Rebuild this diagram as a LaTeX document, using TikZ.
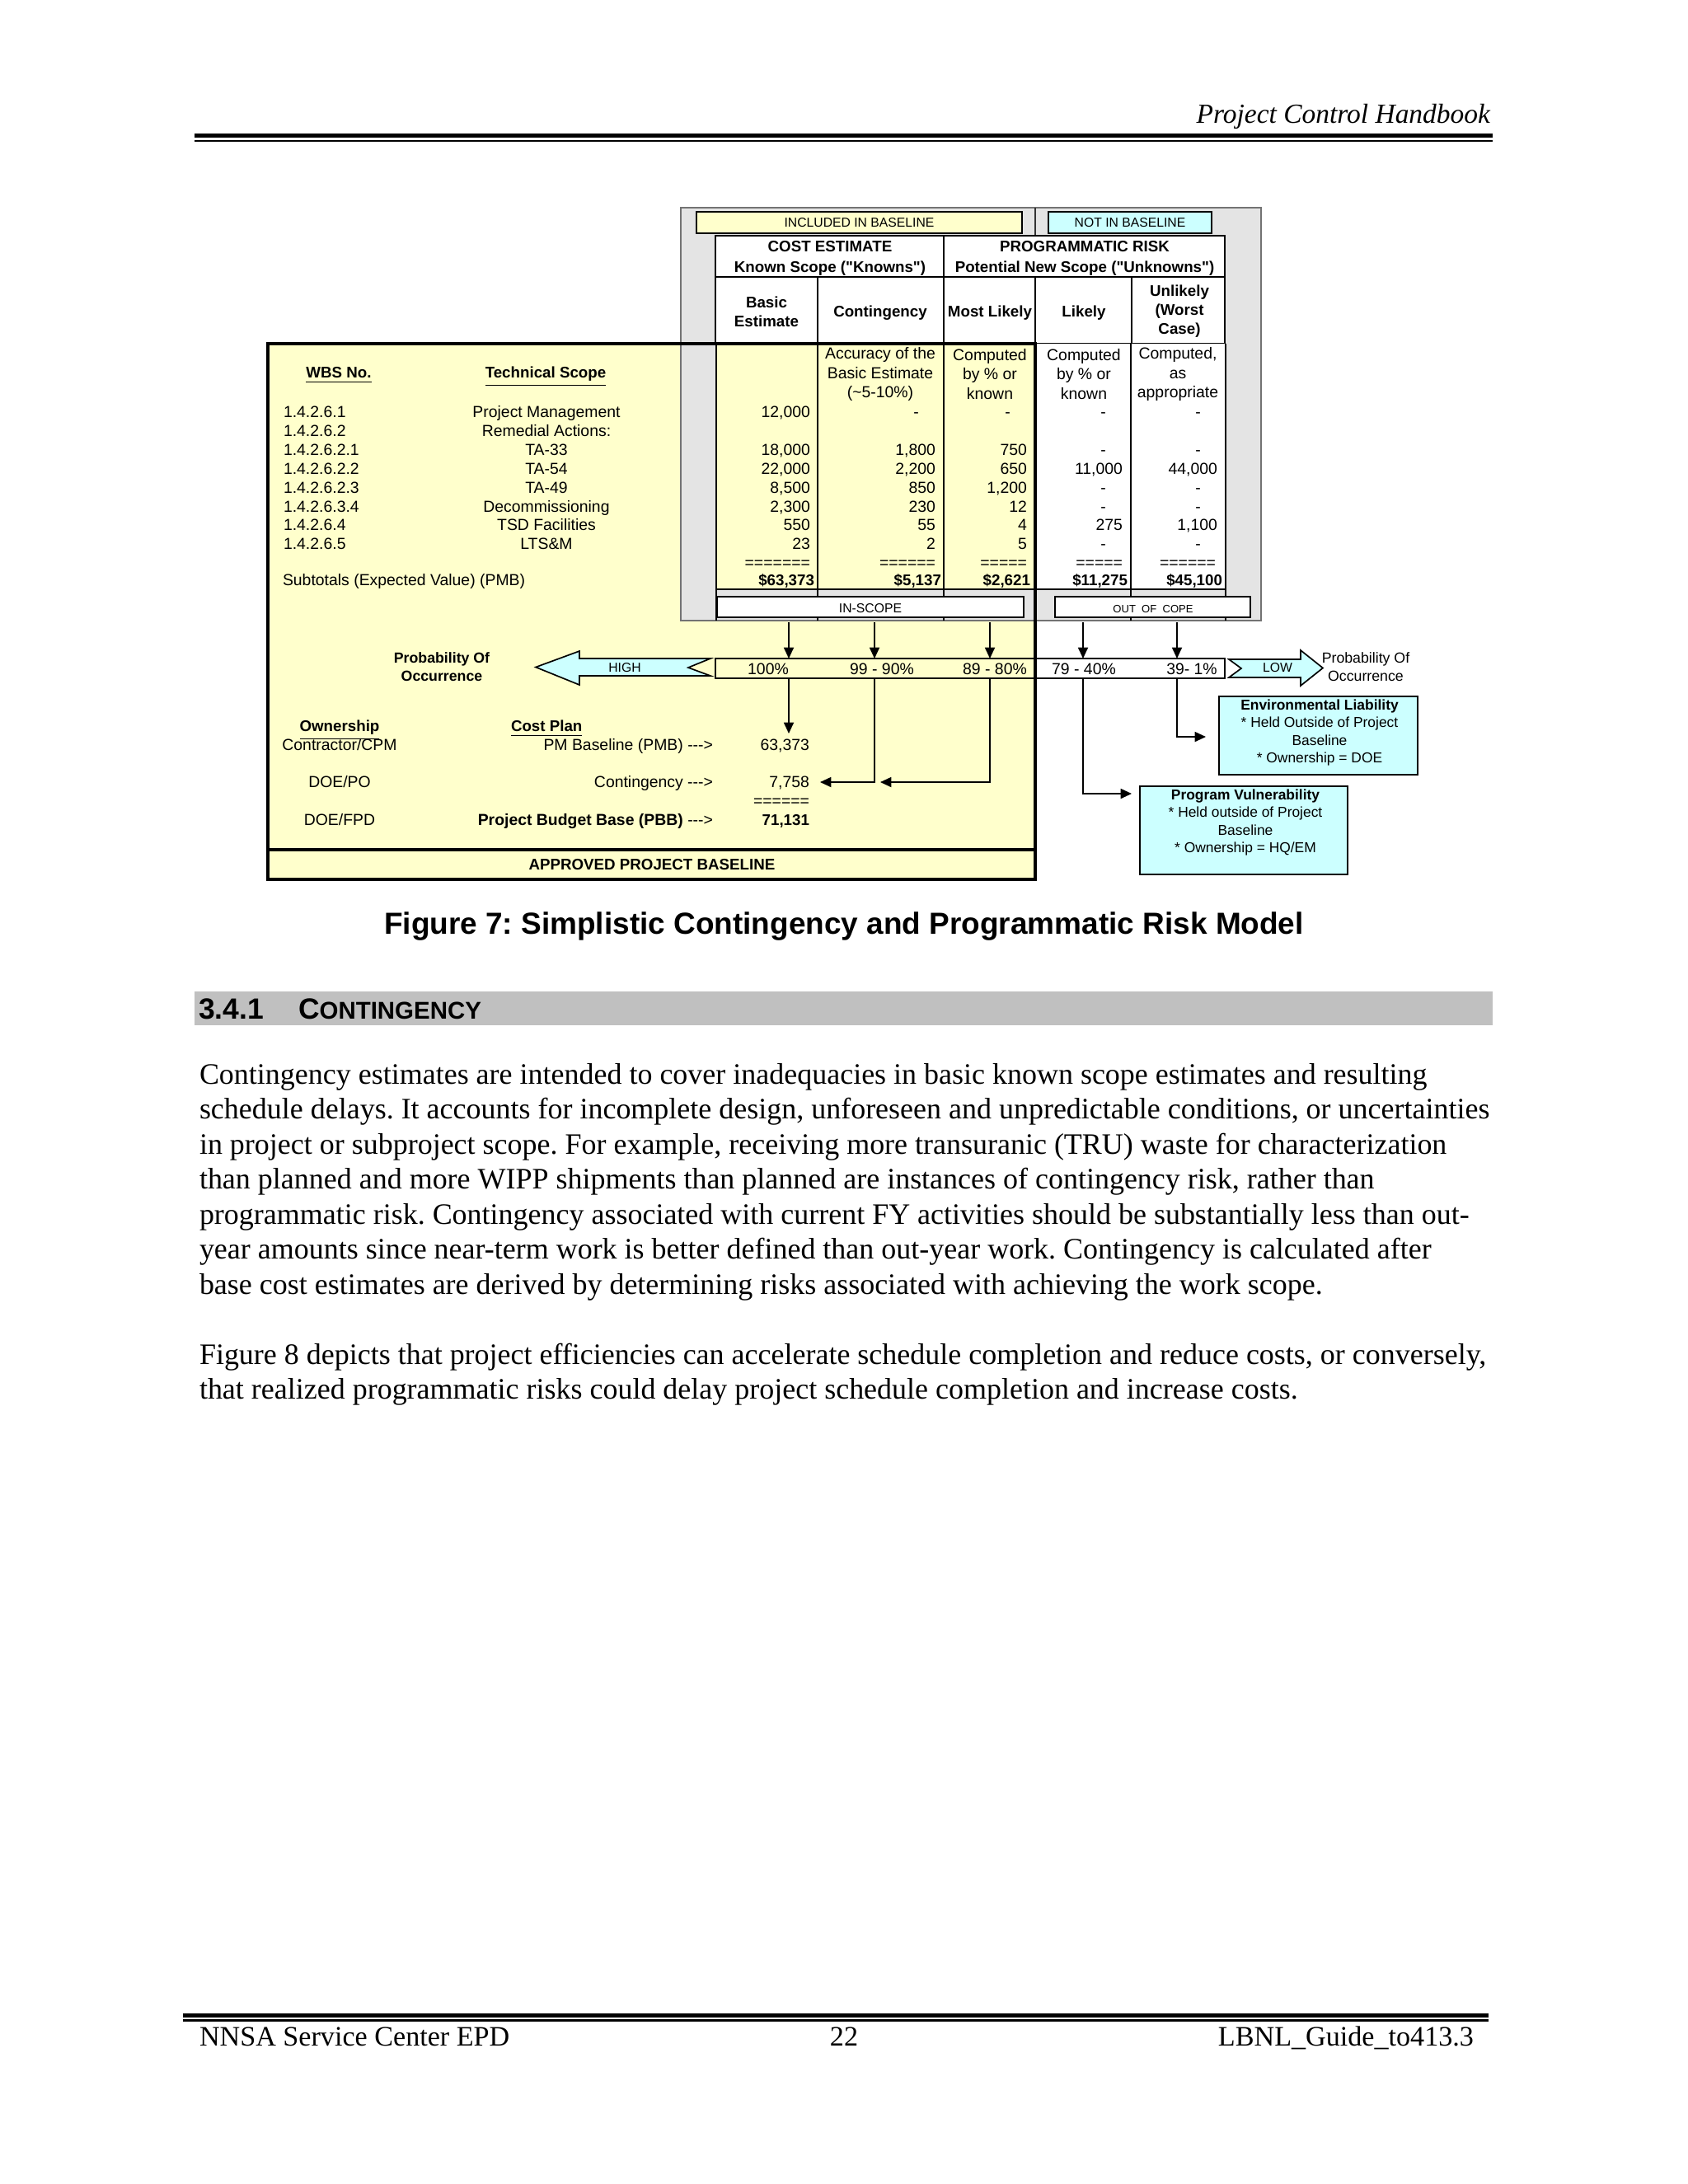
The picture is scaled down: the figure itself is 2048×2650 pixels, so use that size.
\documentclass[tikz,border=0pt]{standalone}
\usepackage{fontspec}
\setmainfont{Liberation Serif}
\newfontfamily\arialf{Liberation Sans}
\usetikzlibrary{arrows.meta}
\frenchspacing
\definecolor{cyel}{HTML}{FFFFCC}
\definecolor{ccyan}{HTML}{CCFFFF}
\definecolor{cgray}{HTML}{E4E4E4}
\definecolor{hbar}{HTML}{C0C0C0}
\newcommand\dashcell{-\kern6pt}
\newcommand\vcell[4]{\node[ftx, anchor=mid east] (#1) at (#2,#3) {#4};}
\newcommand\vbold[4]{\node[fbx, anchor=mid east] (#1) at (#2,#3) {#4};}
\begin{document}
\begin{tikzpicture}[x=0.298828pt,y=-0.298828pt,
  every node/.style={inner sep=0pt,outer sep=0pt},
  ftx/.style={font=\arialf\fontsize{5.8}{6.9}\selectfont},
  fbx/.style={font=\arialf\bfseries\fontsize{5.6}{6.9}\selectfont},
  fhd/.style={font=\arialf\bfseries\fontsize{5.6}{7.5}\selectfont},
  fsm/.style={font=\arialf\fontsize{4.7}{5.6}\selectfont},
  fcyan/.style={font=\arialf\fontsize{5.2}{6.4}\selectfont},
  bodyl/.style={font=\fontsize{10.75}{12.7}\selectfont, anchor=base west},
  footl/.style={font=\fontsize{10.2}{12}\selectfont},
  arr/.style={line width=0.5pt, -{Triangle[length=4pt,width=3.6pt]}},
  lwa/.style={line width=0.45pt},
  lwb/.style={line width=0.8pt},
  lwc/.style={line width=1.1pt}
]
\fill[white] (0,0) rectangle (2048,2650);
\useasboundingbox (0,0) rectangle (2048,2650);

% ---------- page header ----------
\node[font=\fontsize{10}{12}\selectfont\itshape, anchor=base east] (hdr) at (1808,149) {Project Control Handbook};
\fill (236,162) rectangle (1811,167);
\fill (236,169.5) rectangle (1811,172);

% ---------- figure ----------
\fill[cyel] (325,417) rectangle (1256,1067);
\filldraw[fill=cgray, draw=black!55, line width=0.4pt] (826,252) rectangle (1530,753);

\filldraw[fill=cyel, lwa] (845,257) rectangle (1240,283);
\node[fsm] (incl) at (1042.5,270) {INCLUDED IN BASELINE};
\filldraw[fill=ccyan, lwa] (1272,257) rectangle (1470,283);
\node[fsm] (notin) at (1371,270) {NOT IN BASELINE};
\draw[lwb, black!80] (1256,252) -- (1256,286);

% table title row
\filldraw[fill=white, lwa] (868,286) rectangle (1486,336);
\draw[lwa] (1145,286) -- (1145,336);
\node[fhd, align=center] (ce) at (1007,313) {COST ESTIMATE\\Known Scope ("Knowns")};
\node[fhd, align=center] (pr) at (1316,313) {PROGRAMMATIC RISK\\Potential New Scope ("Unknowns")};

% column header row
\fill[white] (868,336) rectangle (1486,417);
\draw[lwa] (992,336) -- (992,417) (1145,336) -- (1145,417);
\draw[lwb] (1256,336) -- (1256,417) (1373,336) -- (1373,417);
\draw[lwb] (868,336) rectangle (1486,417);
\node[fbx, align=center] (hb) at (930,378) {Basic\\Estimate};
\node[fbx, anchor=mid] (hc) at (1068,377) {Contingency};
\node[fbx, anchor=mid] (hm) at (1201,377) {Most Likely};
\node[fbx, anchor=mid] (hl) at (1315,377) {Likely};
\node[fbx, align=center] (hu) at (1431,378) {Unlikely\\(Worst\\Case)};

% data area
\fill[cyel] (869,417) rectangle (1256,715);
\fill[white] (1256,417) rectangle (1487,715);
\draw[lwa] (869,417) -- (869,753) (992,417) -- (992,753) (1145,417) -- (1145,753) (1372,417) -- (1372,753);
\draw[lwb] (1487,417) -- (1487,715);
\draw[lwa] (1487,715) -- (1487,753);
\draw[lwb] (869,715) -- (1487,715);

\node[ftx, align=center] (sc) at (1068,454) {Accuracy of the\\Basic Estimate\\(\textasciitilde5-10\%)};
\node[ftx, align=center] (sm) at (1201,454) {Computed\\by \% or\\known};
\node[ftx, align=center] (sl) at (1315,454) {Computed\\by \% or\\known};
\node[ftx, align=center] (su) at (1429,454) {Computed,\\as\\appropriate};

\node[fbx, anchor=mid] (wbsh) at (411,451) {\underline{WBS No.}};
\node[fbx, anchor=mid] (tsh) at (662,451) {\underline{Technical Scope}};

\node[ftx, anchor=mid west] (w1) at (344,499) {1.4.2.6.1};
\node[ftx, anchor=mid west] (w2) at (344,522) {1.4.2.6.2};
\node[ftx, anchor=mid west] (w3) at (344,545) {1.4.2.6.2.1};
\node[ftx, anchor=mid west] (w4) at (344,568) {1.4.2.6.2.2};
\node[ftx, anchor=mid west] (w5) at (344,591) {1.4.2.6.2.3};
\node[ftx, anchor=mid west] (w6) at (344,613.5) {1.4.2.6.3.4};
\node[ftx, anchor=mid west] (w7) at (344,636) {1.4.2.6.4};
\node[ftx, anchor=mid west] (w8) at (344,659) {1.4.2.6.5};
\node[ftx, anchor=mid west] (subt) at (343,703) {Subtotals (Expected Value) (PMB)};

\node[ftx, anchor=mid] (t1) at (663,499) {Project Management};
\node[ftx, anchor=mid] (t2) at (663,522) {Remedial Actions:};
\node[ftx, anchor=mid] (t3) at (663,545) {TA-33};
\node[ftx, anchor=mid] (t4) at (663,568) {TA-54};
\node[ftx, anchor=mid] (t5) at (663,591) {TA-49};
\node[ftx, anchor=mid] (t6) at (663,613.5) {Decommissioning};
\node[ftx, anchor=mid] (t7) at (663,636) {TSD Facilities};
\node[ftx, anchor=mid] (t8) at (663,659) {LTS\&M};

\vcell{r1a}{983}{499}{12,000}\vcell{r1b}{1135}{499}{\dashcell}\vcell{r1c}{1246}{499}{\dashcell}\vcell{r1d}{1362}{499}{\dashcell}\vcell{r1e}{1477}{499}{\dashcell}
\vcell{r3a}{983}{545}{18,000}\vcell{r3b}{1135}{545}{1,800}\vcell{r3c}{1246}{545}{750}\vcell{r3d}{1362}{545}{\dashcell}\vcell{r3e}{1477}{545}{\dashcell}
\vcell{r4a}{983}{568}{22,000}\vcell{r4b}{1135}{568}{2,200}\vcell{r4c}{1246}{568}{650}\vcell{r4d}{1362}{568}{11,000}\vcell{r4e}{1477}{568}{44,000}
\vcell{r5a}{983}{591}{8,500}\vcell{r5b}{1135}{591}{850}\vcell{r5c}{1246}{591}{1,200}\vcell{r5d}{1362}{591}{\dashcell}\vcell{r5e}{1477}{591}{\dashcell}
\vcell{r6a}{983}{613.5}{2,300}\vcell{r6b}{1135}{613.5}{230}\vcell{r6c}{1246}{613.5}{12}\vcell{r6d}{1362}{613.5}{\dashcell}\vcell{r6e}{1477}{613.5}{\dashcell}
\vcell{r7a}{983}{636}{550}\vcell{r7b}{1135}{636}{55}\vcell{r7c}{1246}{636}{4}\vcell{r7d}{1362}{636}{275}\vcell{r7e}{1477}{636}{1,100}
\vcell{r8a}{983}{659}{23}\vcell{r8b}{1135}{659}{2}\vcell{r8c}{1246}{659}{5}\vcell{r8d}{1362}{659}{\dashcell}\vcell{r8e}{1477}{659}{\dashcell}
\vcell{eqa}{983}{682}{=======}\vcell{eqb}{1135}{682}{======}\vcell{eqc}{1246}{682}{=====}\vcell{eqd}{1362}{682}{=====}\vcell{eqe}{1475}{682}{======}
\vbold{tota}{988}{703}{\$63,373}\vbold{totb}{1142}{703}{\$5,137}\vbold{totc}{1250}{703}{\$2,621}\vbold{totd}{1368}{703}{\$11,275}\vbold{tote}{1483}{703}{\$45,100}

% scope boxes
\filldraw[fill=white, line width=0.6pt] (870,724) rectangle (1242,749);
\node[fsm, anchor=mid] (insc) at (1056,736) {IN-SCOPE};
\filldraw[fill=white, line width=0.6pt] (1280,724) rectangle (1517,749);
\node[font=\arialf\fontsize{3.9}{5}\selectfont, anchor=mid] (outsc) at (1399,736) {OUT\ \ OF\ \ COPE};

% probability bar fills
\fill[cyel] (868,799) rectangle (1256,823);
\fill[white] (1256,799) rectangle (1486,823);

% approved baseline frame
\draw[lwc] (325,417) rectangle (1256,1067);
\draw[lwc] (325,1031) -- (1256,1031);
\node[fbx, anchor=mid] (apb) at (791,1048) {APPROVED PROJECT BASELINE};

% bar outline and labels
\draw[line width=0.55pt] (868,799) rectangle (1486,823);
\node[ftx, anchor=mid] (pc1) at (932,811) {100\%};
\node[ftx, anchor=mid] (pc2) at (1070,811) {99 - 90\%};
\node[ftx, anchor=mid] (pc3) at (1207,811) {89 - 80\%};
\node[ftx, anchor=mid] (pc4) at (1315,811) {79 - 40\%};
\node[ftx, anchor=mid] (pc5) at (1446,811) {39- 1\%};

% HIGH / LOW block arrows
\filldraw[fill=ccyan, draw=black, line width=0.5pt] (650,809.5) -- (703,790) -- (703,799) -- (862,799) -- (835,810) -- (862,820) -- (703,820) -- (703,831) -- cycle;
\node[fsm, anchor=mid] (high) at (758,808) {HIGH};
\filldraw[fill=ccyan, draw=black, line width=0.5pt] (1491,800) -- (1578,800) -- (1578,789) -- (1605,810.5) -- (1578,832) -- (1578,822) -- (1491,822) -- (1506,811) -- cycle;
\node[fsm, anchor=mid] (low) at (1550,808) {LOW};
\node[font=\arialf\bfseries\fontsize{5.3}{6.6}\selectfont, align=center] (probl) at (536,809) {Probability Of\\Occurrence};
\node[font=\arialf\fontsize{5.3}{6.6}\selectfont, align=center] (probr) at (1657,809) {Probability Of\\Occurrence};

% arrow coordinates
\coordinate (s1) at (957,755);  \coordinate (e1) at (957,799);  \coordinate (b1) at (957,823);
\coordinate (s2) at (1061,755); \coordinate (e2) at (1061,799); \coordinate (b2) at (1061,823);
\coordinate (s3) at (1201,755); \coordinate (e3) at (1201,799); \coordinate (b3) at (1201,823);
\coordinate (s4) at (1314,755); \coordinate (e4) at (1314,799); \coordinate (b4) at (1314,823);
\coordinate (s5) at (1428,755); \coordinate (e5) at (1428,799); \coordinate (b5) at (1428,823);
\coordinate (k1) at (957,890);
\coordinate (k2) at (995,949);
\coordinate (k3) at (1068,949);
\coordinate (k4) at (1373,963);
\coordinate (k5) at (1463,894);
\draw[arr] (s1) -- (e1);
\draw[arr] (s2) -- (e2);
\draw[arr] (s3) -- (e3);
\draw[arr] (s4) -- (e4);
\draw[arr] (s5) -- (e5);
\draw[arr] (b1) -- (k1);
\draw[arr] (b2) |- (k2);
\draw[arr] (b3) |- (k3);
\draw[arr] (b4) |- (k4);
\draw[arr] (b5) |- (k5);

% cyan boxes
\node[draw, fill=ccyan, line width=0.5pt, minimum width=72pt, minimum height=28.4pt] (env) at (1599.5,892.5) {};
\node[fcyan, align=center] (envt) at (1601,889) {\textbf{Environmental Liability}\\* Held Outside of Project\\Baseline\\* Ownership = DOE};
\node[draw, fill=ccyan, line width=0.5pt, minimum width=75.3pt, minimum height=32pt] (pv) at (1509,1007.5) {};
\node[fcyan, align=center] (pvt) at (1511,998) {\textbf{Program Vulnerability}\\* Held outside of Project\\Baseline\\* Ownership = HQ/EM};

% lower left cost plan
\node[fbx, anchor=mid] (own) at (412,880) {\underline{Ownership}};
\node[ftx, anchor=mid] (o1) at (412,903) {Contractor/CPM};
\node[ftx, anchor=mid] (o2) at (412,948) {DOE/PO};
\node[ftx, anchor=mid] (o3) at (412,994) {DOE/FPD};
\node[fbx, anchor=mid west] (cp) at (620,880) {\underline{Cost Plan}};
\node[ftx, anchor=mid east] (c1) at (865,903) {PM Baseline (PMB) -{}-{}->};
\node[ftx, anchor=mid east] (c2) at (865,948) {Contingency -{}-{}->};
\node[ftx, anchor=mid east] (c3) at (865,994) {\textbf{Project Budget Base (PBB)} -{}-{}->};
\node[ftx, anchor=mid east] (v1) at (982,903) {63,373};
\node[ftx, anchor=mid east] (v2) at (982,948) {7,758};
\node[ftx, anchor=mid east] (v3) at (982,971) {======};
\node[fbx, anchor=mid east] (v4) at (982,994) {71,131};

% ---------- caption and section ----------
\node[font=\arialf\bfseries\fontsize{11.05}{13}\selectfont, anchor=base] (cap) at (1024,1133) {Figure 7: Simplistic Contingency and Programmatic Risk Model};
\fill[hbar] (236,1203) rectangle (1811,1244);
\node[font=\arialf\bfseries\fontsize{10.6}{12}\selectfont, anchor=base west] (secnum) at (241,1236) {3.4.1};
\node[font=\arialf\bfseries\fontsize{10.6}{12}\selectfont, anchor=base west] (sectitle) at (362,1236) {C{\fontsize{8.8}{10}\selectfont ONTINGENCY}};

% ---------- body ----------
\node[bodyl] (p1a) at (242,1315) {Contingency estimates are intended to cover inadequacies in basic known scope estimates and resulting};
\node[bodyl] (p1b) at (242,1357.5) {schedule delays. It accounts for incomplete design, unforeseen and unpredictable conditions, or uncertainties};
\node[bodyl] (p1c) at (242,1400) {in project or subproject scope. For example, receiving more transuranic (TRU) waste for characterization};
\node[bodyl] (p1d) at (242,1442.5) {than planned and more WIPP shipments than planned are instances of contingency risk, rather than};
\node[bodyl] (p1e) at (242,1485) {programmatic risk. Contingency associated with current FY activities should be substantially less than out-};
\node[bodyl] (p1f) at (242,1527.5) {year amounts since near-term work is better defined than out-year work. Contingency is calculated after};
\node[bodyl] (p1g) at (242,1570) {base cost estimates are derived by determining risks associated with achieving the work scope.};
\node[bodyl] (p2a) at (242,1655) {Figure 8 depicts that project efficiencies can accelerate schedule completion and reduce costs, or conversely,};
\node[bodyl] (p2b) at (242,1697.5) {that realized programmatic risks could delay project schedule completion and increase costs.};

% ---------- footer ----------
\fill (222,2443) rectangle (1806,2448);
\fill (222,2450) rectangle (1806,2452.5);
\node[footl, anchor=base west] (fl) at (242,2482) {NNSA Service Center EPD};
\node[footl, anchor=base] (fc) at (1024,2482) {22};
\node[footl, anchor=base east] (fr) at (1788,2482) {LBNL\_Guide\_to413.3};
\end{tikzpicture}
\end{document}
